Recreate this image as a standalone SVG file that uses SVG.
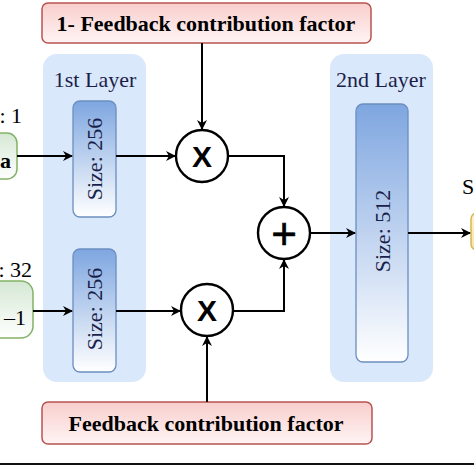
<svg xmlns="http://www.w3.org/2000/svg" width="474" height="474" viewBox="0 0 474 474">
<style>
.panel{fill:#dae8fc;stroke:none}
.size{fill:url(#gBlue);stroke:#6c8ebf;stroke-width:1.3}
.red{fill:url(#gRed);stroke:#b85450;stroke-width:1.5}
.green{fill:url(#gGreen);stroke:#82b366;stroke-width:1.5}
.yellow{fill:url(#gYellow);stroke:#d6b656;stroke-width:1.5}
.op{fill:#fff;stroke:#000;stroke-width:2.4}
.lbl{font-family:"Liberation Serif",serif;font-size:22px;fill:#1a1f4a}
.big{font-family:"Liberation Serif",serif;font-size:22px;font-weight:bold;fill:#000}
.plain{font-family:"Liberation Serif",serif;font-size:22px;fill:#000}
.sym{font-family:"Liberation Sans",sans-serif;fill:#000;text-anchor:middle}
.ln{fill:none;stroke:#000;stroke-width:2}
</style>
<defs>
<linearGradient id="gBlue" x1="0" y1="0" x2="0" y2="1"><stop offset="0" stop-color="#7ea6e0"/><stop offset="1" stop-color="#ffffff"/></linearGradient>
<linearGradient id="gRed" x1="0" y1="0" x2="0" y2="1"><stop offset="0" stop-color="#f8cecc"/><stop offset="1" stop-color="#fff4f4"/></linearGradient>
<linearGradient id="gGreen" x1="0" y1="0" x2="0" y2="1"><stop offset="0" stop-color="#d5e8d4"/><stop offset="1" stop-color="#ffffff"/></linearGradient>
<linearGradient id="gYellow" x1="0" y1="0" x2="0" y2="1"><stop offset="0" stop-color="#fff2cc"/><stop offset="1" stop-color="#f5e3a6"/></linearGradient>
<marker id="arr" viewBox="0 0 10 10" refX="9" refY="5" markerWidth="10" markerHeight="10" markerUnits="userSpaceOnUse" orient="auto"><path d="M0,0 L10,5 L0,10 L3,5 Z" fill="#000"/></marker>
</defs>
<rect width="474" height="474" fill="#fff"/>

<g id="layer1">
<rect class="panel" x="43" y="54" width="103" height="328" rx="14"/>
<text class="lbl" x="95" y="87" text-anchor="middle">1st Layer</text>
</g>
<g id="layer2">
<rect class="panel" x="330" y="54" width="103" height="328" rx="14"/>
<text class="lbl" x="381" y="87" text-anchor="middle">2nd Layer</text>
</g>

<g id="size1a">
<rect class="size" x="73" y="101" width="43" height="116" rx="7"/>
<text class="lbl" transform="translate(94.5,159) rotate(-90)" text-anchor="middle" dy="7.5">Size: 256</text>
</g>
<g id="size1b">
<rect class="size" x="73" y="249" width="43" height="123" rx="7"/>
<text class="lbl" transform="translate(94.5,309) rotate(-90)" text-anchor="middle" dy="7.5">Size: 256</text>
</g>
<g id="size2">
<rect class="size" x="356" y="104" width="52" height="258" rx="7"/>
<text class="lbl" transform="translate(382,231) rotate(-90)" text-anchor="middle" dy="7.5">Size: 512</text>
</g>

<g id="topFactor">
<rect class="red" x="42" y="3" width="329" height="40" rx="6"/>
<text class="big" x="206" y="31" text-anchor="middle">1- Feedback contribution factor</text>
</g>
<g id="bottomFactor">
<rect class="red" x="42" y="402" width="330" height="42" rx="6"/>
<text class="big" x="206" y="431" text-anchor="middle">Feedback contribution factor</text>
</g>

<g id="input1">
<rect class="green" x="-20" y="133" width="37" height="46" rx="10"/>
<text class="big" x="11" y="168" text-anchor="end">a</text>
<text class="plain" x="22" y="123" text-anchor="end">: 1</text>
</g>
<g id="input2">
<rect class="green" x="-20" y="281" width="53" height="57" rx="12"/>
<text class="plain" x="26" y="325" text-anchor="end">–1</text>
<text class="plain" x="32" y="277" text-anchor="end">: 32</text>
</g>
<g id="output">
<rect class="yellow" x="471" y="213" width="20" height="37" rx="6"/>
<text class="plain" x="462" y="194">S</text>
</g>

<g id="mul1">
<circle class="op" cx="202" cy="156" r="26"/>
<text class="sym" x="202" y="167" font-size="30" font-weight="bold">X</text>
</g>
<g id="mul2">
<circle class="op" cx="207" cy="310" r="26"/>
<text class="sym" x="207" y="321" font-size="30" font-weight="bold">X</text>
</g>
<g id="add">
<circle class="op" cx="284" cy="233" r="26"/>
<text class="sym" x="284" y="249" font-size="44" stroke="#000" stroke-width="0.6">+</text>
</g>

<g id="connectors">
<line class="ln" x1="202" y1="43" x2="202" y2="129" marker-end="url(#arr)"/>
<line class="ln" x1="207" y1="402" x2="207" y2="337" marker-end="url(#arr)"/>
<line class="ln" x1="17" y1="156" x2="72" y2="156" marker-end="url(#arr)"/>
<line class="ln" x1="116" y1="156" x2="175" y2="156" marker-end="url(#arr)"/>
<polyline class="ln" points="228,156 284,156 284,206" marker-end="url(#arr)"/>
<line class="ln" x1="33" y1="311" x2="72" y2="311" marker-end="url(#arr)"/>
<line class="ln" x1="116" y1="311" x2="180" y2="311" marker-end="url(#arr)"/>
<polyline class="ln" points="233,311 284,311 284,260" marker-end="url(#arr)"/>
<line class="ln" x1="310" y1="233" x2="355" y2="233" marker-end="url(#arr)"/>
<line class="ln" x1="408" y1="233" x2="470" y2="233" marker-end="url(#arr)"/>
</g>
<line x1="0" y1="464" x2="474" y2="464" stroke="#111" stroke-width="2"/>
</svg>
